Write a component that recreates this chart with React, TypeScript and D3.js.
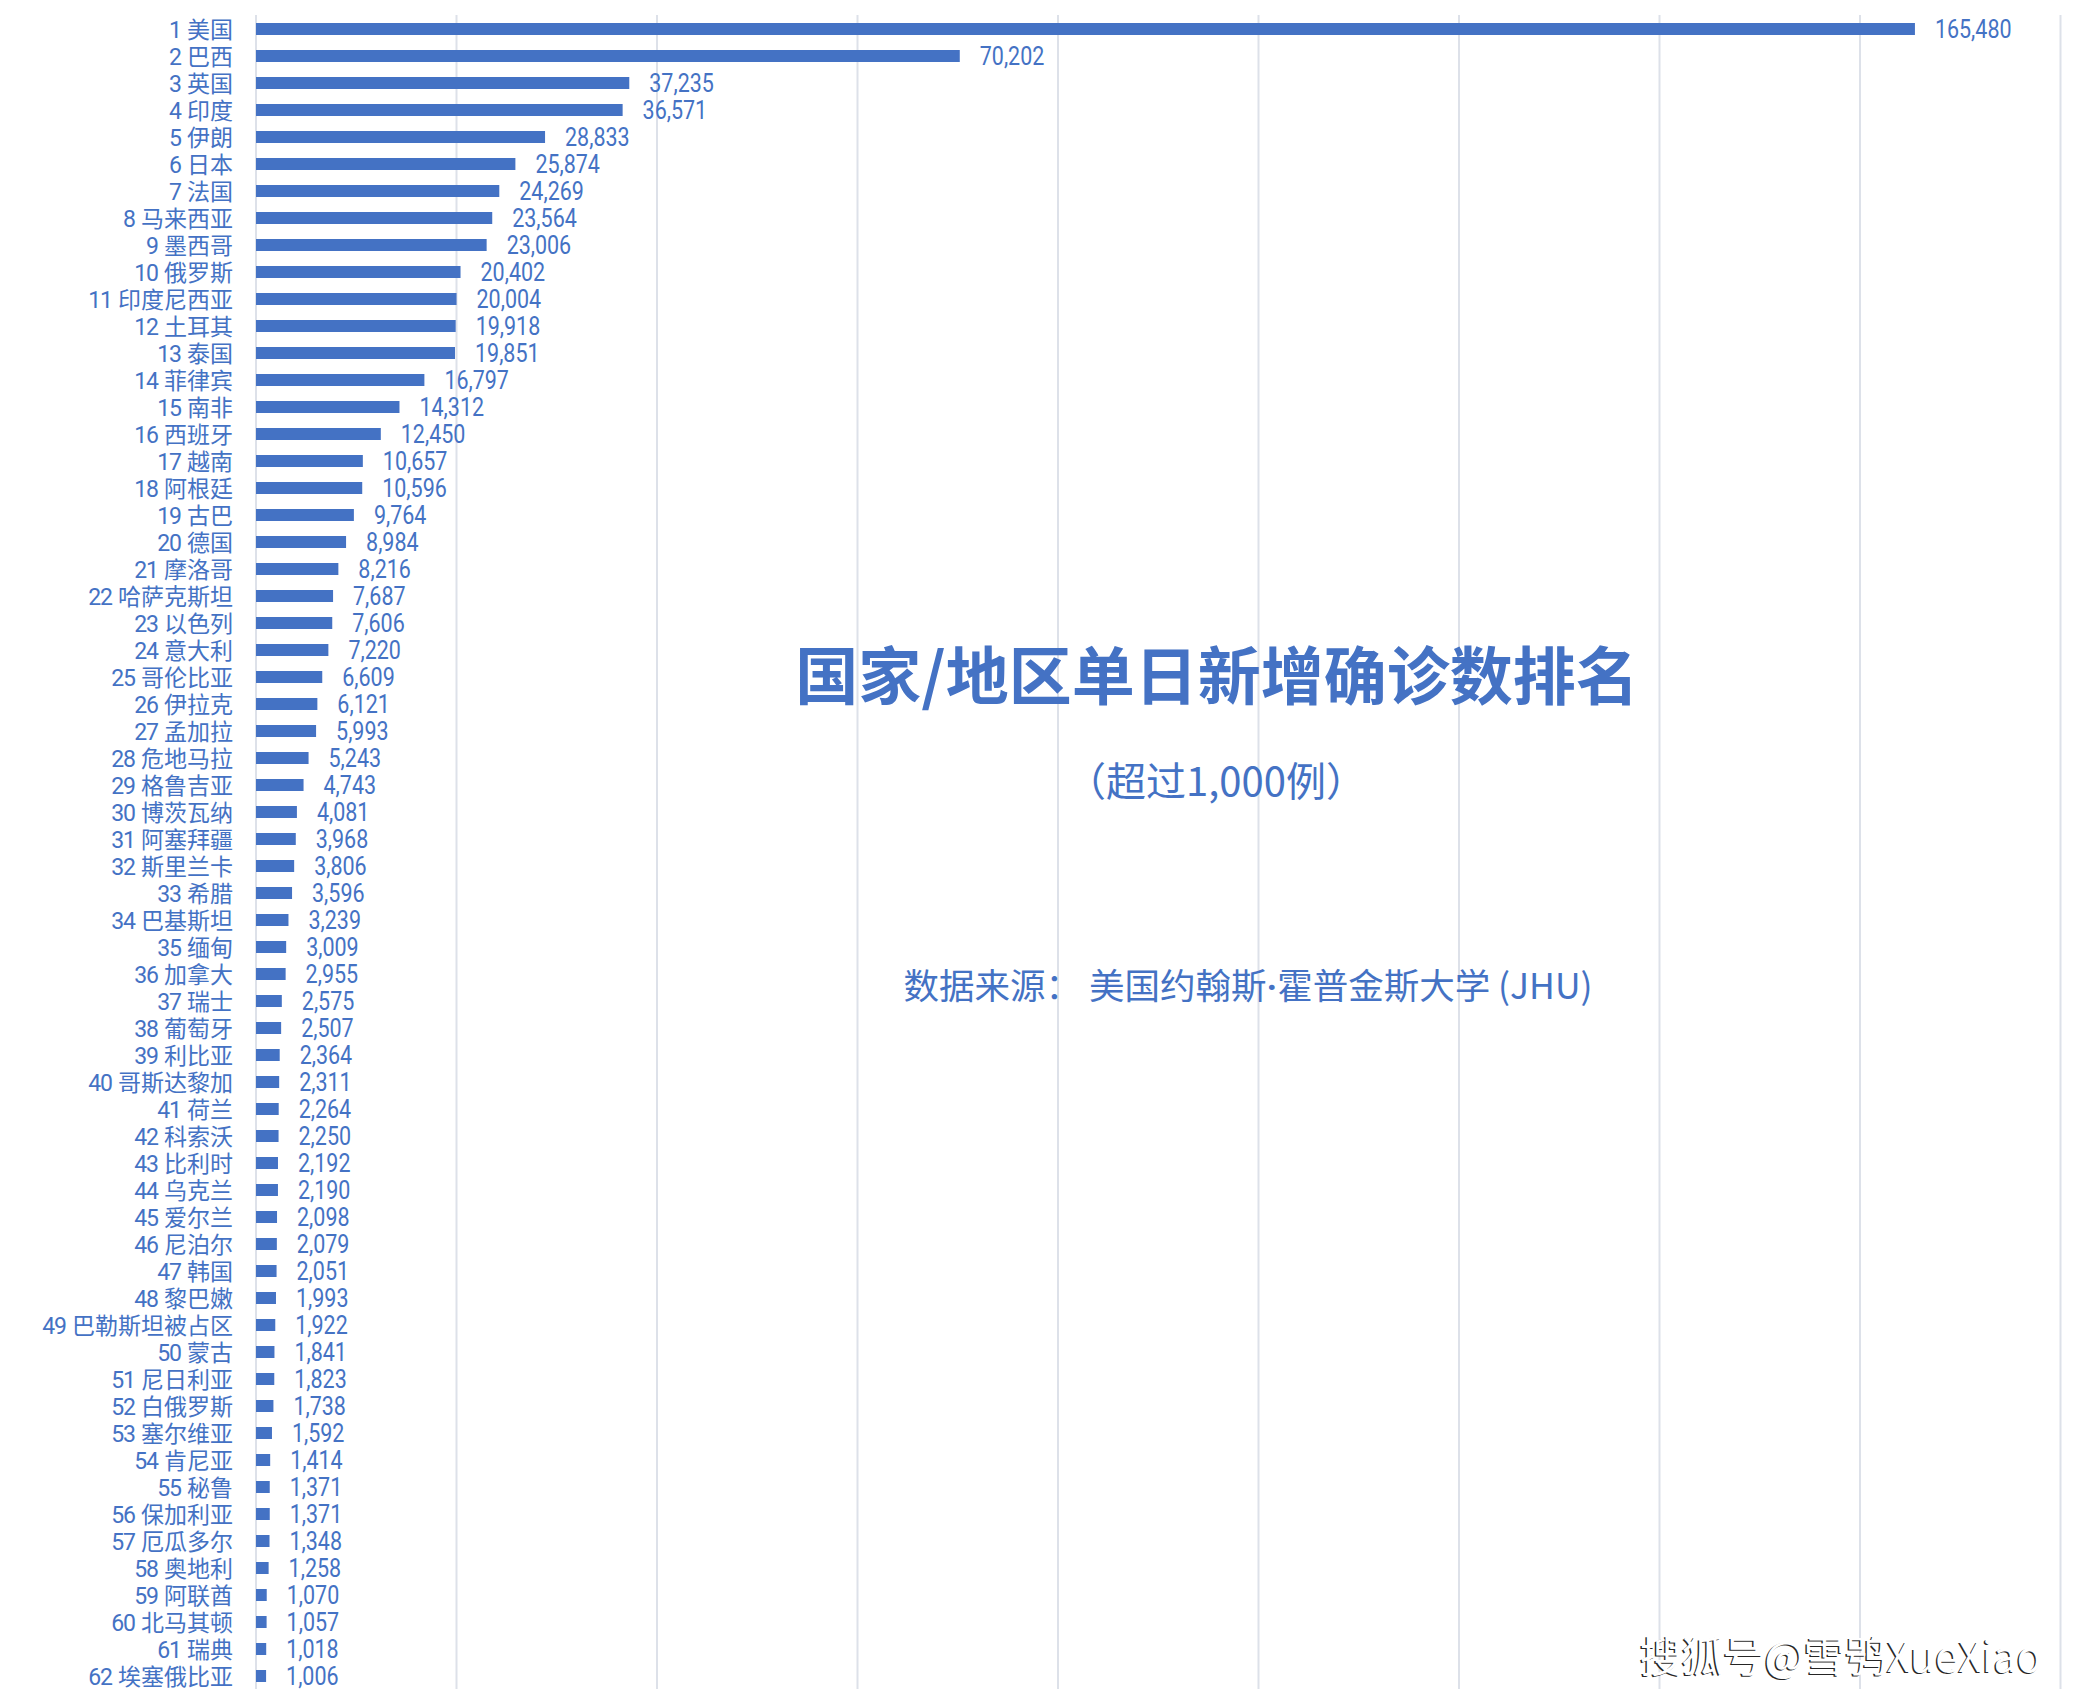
import React from "react";
import * as d3 from "d3";

const ranks: number[] = Array.from({ length: 62 }, (_, i) => i + 1);
const countries: string[] = [
  "美国", "巴西", "英国", "印度", "伊朗", "日本", "法国", "马来西亚", "墨西哥", "俄罗斯",
  "印度尼西亚", "土耳其", "泰国", "菲律宾", "南非", "西班牙", "越南", "阿根廷", "古巴", "德国",
  "摩洛哥", "哈萨克斯坦", "以色列", "意大利", "哥伦比亚", "伊拉克", "孟加拉", "危地马拉", "格鲁吉亚", "博茨瓦纳",
  "阿塞拜疆", "斯里兰卡", "希腊", "巴基斯坦", "缅甸", "加拿大", "瑞士", "葡萄牙", "利比亚", "哥斯达黎加",
  "荷兰", "科索沃", "比利时", "乌克兰", "爱尔兰", "尼泊尔", "韩国", "黎巴嫩", "巴勒斯坦被占区", "蒙古",
  "尼日利亚", "白俄罗斯", "塞尔维亚", "肯尼亚", "秘鲁", "保加利亚", "厄瓜多尔", "奥地利", "阿联酋", "北马其顿",
  "瑞典", "埃塞俄比亚",
];
const newCases: number[] = [
  165480, 70202, 37235, 36571, 28833, 25874, 24269, 23564, 23006, 20402,
  20004, 19918, 19851, 16797, 14312, 12450, 10657, 10596, 9764, 8984,
  8216, 7687, 7606, 7220, 6609, 6121, 5993, 5243, 4743, 4081,
  3968, 3806, 3596, 3239, 3009, 2955, 2575, 2507, 2364, 2311,
  2264, 2250, 2192, 2190, 2098, 2079, 2051, 1993, 1922, 1841,
  1823, 1738, 1592, 1414, 1371, 1371, 1348, 1258, 1070, 1057,
  1018, 1006,
];
const gridTicks: number[] = [0, 20000, 40000, 60000, 80000, 100000, 120000, 140000, 160000, 180000];
const titleText = "国家/地区单日新增确诊数排名";
const subtitleText = "（超过1,000例）";
const sourceA = "数据来源： 美国约翰斯";
const sourceDot = "·";
const sourceB = "霍普金斯大学 (JHU)";
const watermarkText = "搜狐号@雪鸮XueXiao";

const W = 2092;
const H = 1700;
const BLUE = "#4472C4";
const CJK = "'Noto Sans CJK SC', 'Noto Sans', sans-serif";
const NUM = "Roboto, 'Liberation Sans', sans-serif";

export default function App() {
  const x = d3.scaleLinear().domain([0, 180000]).range([256, 256 + 9 * 200.5]);
  const keys = ranks.map((r) => String(r));
  const y = d3
    .scaleBand<string>()
    .domain(keys)
    .range([15.5, 15.5 + 62 * 27])
    .paddingInner(15 / 27)
    .paddingOuter(15 / 54);
  const fmt = d3.format(",");
  const labelEnd = 233;
  const cjkSize = 23;
  const numSize = 23;
  const valSize = 26.5;
  const sx = 0.81;

  return (
    <svg
      width={W}
      height={H}
      style={{ position: "absolute", left: 0, top: 0, background: "#fff" }}
    >
      <rect x={0} y={0} width={W} height={H} fill="#fff" />
      {gridTicks.map((t) => (
        <line
          key={t}
          x1={x(t)}
          x2={x(t)}
          y1={15}
          y2={1689}
          stroke="#dde1e9"
          strokeWidth={2}
        />
      ))}
      {ranks.map((r, i) => {
        const key = String(r);
        const by = y(key) as number;
        const cy = by + y.bandwidth() / 2;
        const v = newCases[i];
        const name = countries[i];
        const vx = x(v) + 20;
        return (
          <g key={key}>
            <rect
              x={x(0)}
              y={by}
              width={x(v) - x(0)}
              height={y.bandwidth()}
              fill={BLUE}
            />
            <text
              x={labelEnd}
              y={cy + 8.5}
              textAnchor="end"
              fontFamily={CJK}
              fontSize={cjkSize}
              fill={BLUE}
            >
              <tspan fontFamily={NUM} fontSize={numSize} letterSpacing={-1}>
                {String(r)}
              </tspan>
              <tspan dx={6}>{name}</tspan>
            </text>
            <text
              transform={`translate(${vx},${cy + 9.4}) scale(${sx},1)`}
              textAnchor="start"
              fontFamily={NUM}
              fontSize={valSize}
              fill={BLUE}
            >
              {fmt(v)}
            </text>
          </g>
        );
      })}
      <text
        x={1217}
        y={699}
        textAnchor="middle"
        fontFamily={CJK}
        fontSize={63}
        fontWeight="bold"
        fill={BLUE}
      >
        {titleText}
      </text>
      <text
        x={1216}
        y={796}
        textAnchor="middle"
        fontFamily={CJK}
        fontSize={40}
        fill={BLUE}
      >
        {subtitleText}
      </text>
      <text
        x={1248}
        y={999}
        textAnchor="middle"
        fontFamily={CJK}
        fontSize={35.5}
        fill={BLUE}
      >
        <tspan>{sourceA}</tspan>
        <tspan fontFamily={NUM} fontWeight="bold">{sourceDot}</tspan>
        <tspan>{sourceB}</tspan>
      </text>
      <text
        x={1638.5}
        y={1673}
        fontFamily={CJK}
        fontSize={41.5}
        fill="#000"
        opacity={0.85}
      >
        {watermarkText}
      </text>
      <text x={1640} y={1671.5} fontFamily={CJK} fontSize={41.5} fill="#fff">
        {watermarkText}
      </text>
    </svg>
  );
}
